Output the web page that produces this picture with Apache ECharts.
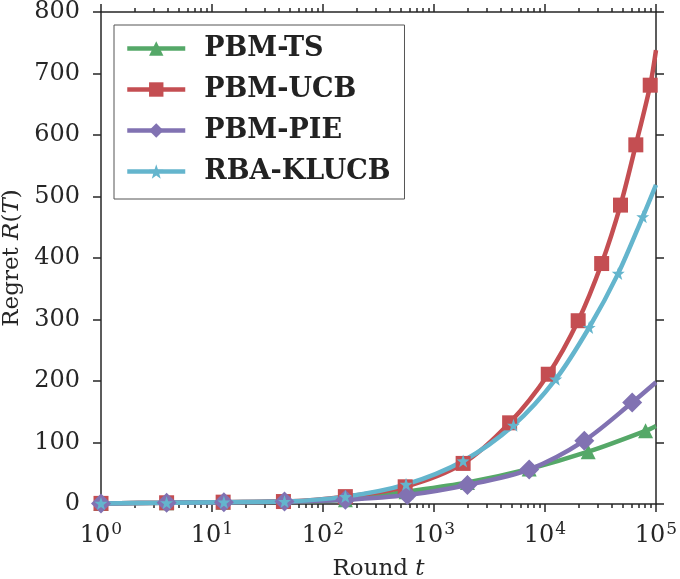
<!DOCTYPE html>
<html>
<head>
<meta charset="utf-8">
<script src="https://cdn.jsdelivr.net/npm/echarts@6/dist/echarts.min.js"></script>
<style>
  html, body { margin: 0; padding: 0; background: #fff; }
  #chart { width: 680px; height: 579px; }
</style>
</head>
<body>
<div id="chart"></div>
<script>
// rounds t and regret values (marker points + line end)
const tsRounds    = [1, 3.9, 12.6, 44, 159, 560, 2000, 7200, 24500, 80500, 100000];
const tsRegret    = [1, 2, 3, 4, 7, 20, 35, 57, 85, 119, 127];

const ucbRounds   = [1, 3.9, 12.6, 44, 159, 550, 1830, 4800, 10700, 19900, 32400, 47900, 65800, 88700, 100000];
const ucbRegret   = [1, 2, 3, 4, 12, 28, 66, 132, 211, 298, 391, 486, 584, 681, 738];

const pieRounds   = [1, 3.9, 12.8, 45, 159, 575, 2000, 7200, 22600, 61000, 100000];
const pieRegret   = [1, 2, 3, 4, 7, 14.6, 31, 56, 103, 165, 198];

const klucbRounds = [1, 3.9, 12.8, 45, 159, 560, 1830, 5200, 12500, 25000, 45700, 76000, 100000];
const klucbRegret = [1, 2, 3, 4, 12, 32, 70, 128, 203, 287, 375, 467, 519];

const seriesNames = ["PBM-TS", "PBM-UCB", "PBM-PIE", "RBA-KLUCB"];
const yTicks = [0, 100, 200, 300, 400, 500, 600, 700, 800];

const FONT = "DejaVu Serif";
const INK = "#262626";
const STAR = "path://M0,-10L2.35,-3.24L9.51,-3.09L3.8,1.24L5.88,8.09L0,4L-5.88,8.09L-3.8,1.24L-9.51,-3.09L-2.35,-3.24Z";

// minor ticks of the log axis, expressed in decades (0..5)
const minorDecades = [];
for (let d = 0; d < 5; d++) {
  for (let k = 2; k <= 9; k++) minorDecades.push(d + Math.log10(k));
}

// the last point of each curve is just the line end, no marker there
function pts(ts, vs){
  return ts.map((t, i) => i === ts.length - 1
    ? { value: [t, vs[i]], symbol: "none" }
    : [t, vs[i]]);
}

function lineSeries(name, color, symbol, size, ts, vs){
  return {
    name, type: "line",
    xAxisIndex: 0, yAxisIndex: 0,
    smooth: 0.3,
    showAllSymbol: true,
    symbol, symbolSize: size,
    lineStyle: { color, width: 4.5 },
    itemStyle: { color },
    emphasis: { disabled: true },
    data: pts(ts, vs)
  };
}

const chart = echarts.init(document.getElementById("chart"));

const tickLine = { color: INK, width: 1.5 };
const axisLine = { show: true, onZero: false, lineStyle: { color: INK, width: 1.5 } };

const option = {
  animation: false,
  backgroundColor: "#fff",
  grid: { left: 101, right: 24, top: 12, bottom: 75, containLabel: false, outerBoundsMode: "none" },
  legend: {
    orient: "vertical",
    left: 114, top: 25,
    itemWidth: 58, itemHeight: 18, itemGap: 14,
    padding: [10, 14, 14, 11],
    borderColor: "#555", borderWidth: 1, borderRadius: 0,
    backgroundColor: "#fff",
    lineStyle: { width: 4.5 },
    textStyle: {
      fontFamily: FONT, fontWeight: "bold", fontSize: 27,
      color: "#222", padding: [0, 0, 0, 14]
    },
    data: seriesNames
  },
  xAxis: [
    {
      type: "log", logBase: 10, min: 1, max: 100000, position: "bottom",
      axisLine, axisTick: { show: true, length: 8, lineStyle: tickLine },
      splitLine: { show: false },
      axisLabel: {
        margin: 17,
        formatter: v => "{b|10}{s|" + Math.round(Math.log10(v)) + "}",
        rich: {
          b: { fontFamily: FONT, fontSize: 24, color: INK },
          s: { fontFamily: FONT, fontSize: 17, color: INK, padding: [0, 0, 12, 1] }
        }
      },
      name: "{n|Round }{i|t}",
      nameLocation: "middle", nameGap: 54,
      nameTextStyle: {
        rich: {
          n: { fontFamily: FONT, fontSize: 23, color: INK },
          i: { fontFamily: FONT, fontSize: 23, fontStyle: "italic", color: INK }
        }
      }
    },
    {
      type: "value", min: 0, max: 5, position: "bottom",
      axisLine: { show: false, onZero: false },
      axisTick: { show: true, length: 4, lineStyle: tickLine, customValues: minorDecades },
      axisLabel: { show: false }, splitLine: { show: false }
    },
    {
      type: "log", logBase: 10, min: 1, max: 100000, position: "top",
      axisLine, axisTick: { show: true, length: 8, lineStyle: tickLine },
      axisLabel: { show: false }, splitLine: { show: false }
    },
    {
      type: "value", min: 0, max: 5, position: "top",
      axisLine: { show: false, onZero: false },
      axisTick: { show: true, length: 4, lineStyle: tickLine, customValues: minorDecades },
      axisLabel: { show: false }, splitLine: { show: false }
    }
  ],
  yAxis: [
    {
      type: "value", min: 0, max: 800, interval: 100, position: "left",
      axisLine, axisTick: { show: true, length: 8, lineStyle: tickLine },
      splitLine: { show: false },
      axisLabel: {
        margin: 21, fontFamily: FONT, fontSize: 24, color: INK,
        customValues: yTicks
      },
      name: "{n|Regret }{i|R}{n|(}{i|T}{n|)}",
      nameLocation: "middle", nameGap: 74, nameRotate: 90,
      nameTextStyle: {
        rich: {
          n: { fontFamily: FONT, fontSize: 23, color: INK },
          i: { fontFamily: FONT, fontSize: 23, fontStyle: "italic", color: INK }
        }
      }
    },
    {
      type: "value", min: 0, max: 800, interval: 100, position: "right",
      axisLine, axisTick: { show: true, length: 8, lineStyle: tickLine },
      axisLabel: { show: false }, splitLine: { show: false }
    }
  ],
  series: [
    lineSeries(seriesNames[0], "#55a868", "triangle", 15, tsRounds, tsRegret),
    lineSeries(seriesNames[1], "#c44e52", "rect", 15, ucbRounds, ucbRegret),
    lineSeries(seriesNames[2], "#8172b2", "diamond", 20, pieRounds, pieRegret),
    lineSeries(seriesNames[3], "#64b5cd", STAR, 13, klucbRounds, klucbRegret)
  ]
};

chart.setOption(option);
</script>
</body>
</html>
